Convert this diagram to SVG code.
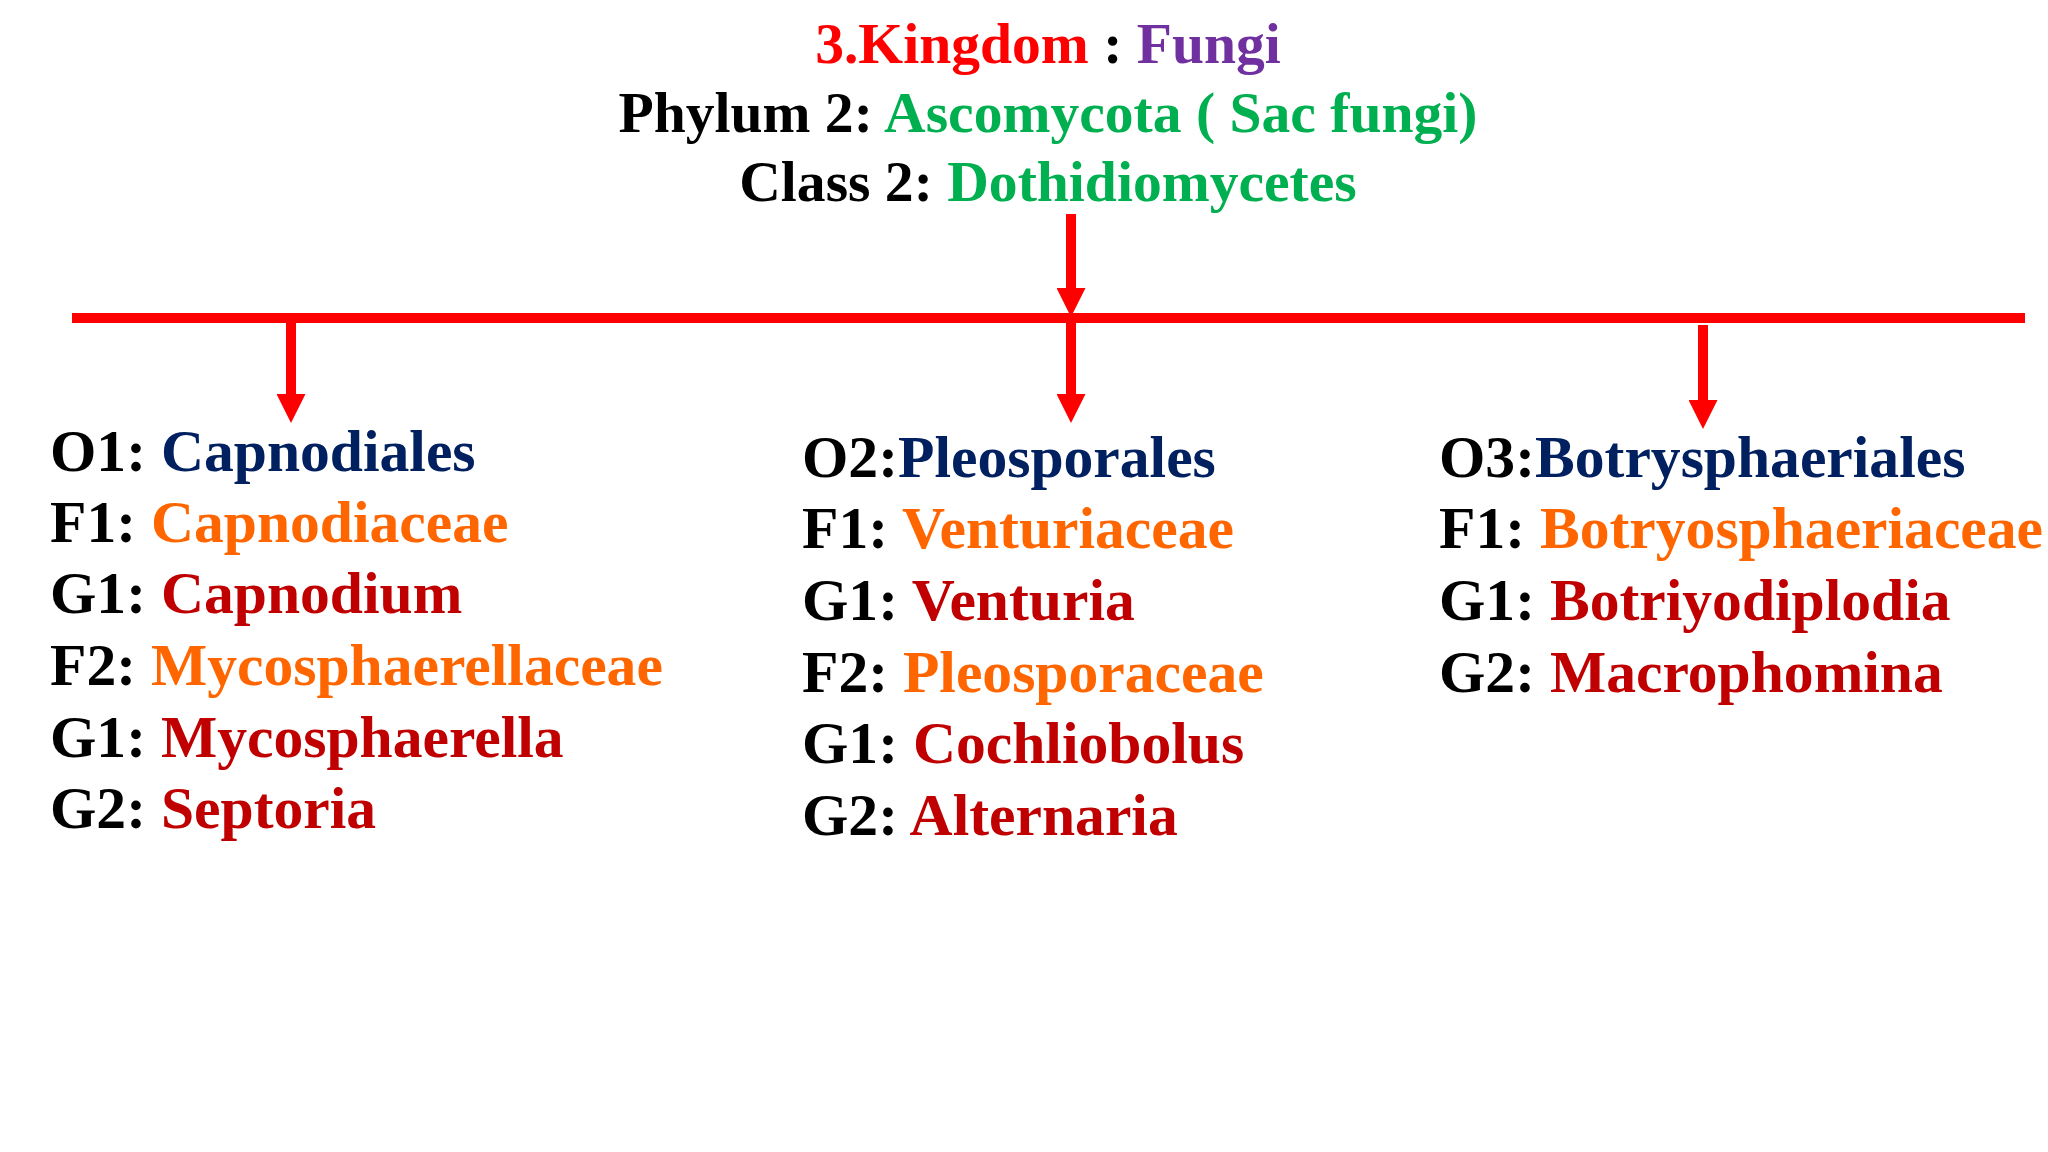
<svg xmlns="http://www.w3.org/2000/svg" width="2048" height="1152" viewBox="0 0 2048 1152">
  <style>
    text { font-family: "Liberation Serif", "Times New Roman", serif; font-weight: bold; }
    .title { font-size: 57.6px; text-anchor: middle; }
    .item { font-size: 59.6px; }
    .k { fill: #000000; }
    .red { fill: #FF0000; }
    .purple { fill: #7030A0; }
    .green { fill: #00B050; }
    .order { fill: #002060; }
    .family { fill: #FF6600; }
    .genus { fill: #C00000; }
    .conn { stroke: #FF0000; fill: none; }
    .shaft { stroke-width: 10; }
    .bar { stroke-width: 10; }
  </style>
  <defs>
    <marker id="ah" markerUnits="userSpaceOnUse" markerWidth="29" markerHeight="29" viewBox="0 0 29 29" refX="0" refY="14.5" orient="auto">
      <path d="M0,0 L29,14.5 L0,29 Z" fill="#FF0000"/>
    </marker>
  </defs>
  <rect width="2048" height="1152" fill="#FFFFFF"/>

  <g id="title">
    <text class="title" x="1048" y="63"><tspan class="red">3.Kingdom</tspan><tspan class="k"> : </tspan><tspan class="purple">Fungi</tspan></text>
    <text class="title" x="1048" y="132"><tspan class="k">Phylum 2: </tspan><tspan class="green">Ascomycota ( Sac fungi)</tspan></text>
    <text class="title" x="1048" y="201"><tspan class="k">Class 2: </tspan><tspan class="green">Dothidiomycetes</tspan></text>
  </g>

  <g id="connectors">
    <line class="conn bar" x1="72" y1="318" x2="2025" y2="318"/>
    <line class="conn shaft" x1="1071" y1="214" x2="1071" y2="288" marker-end="url(#ah)"/>
    <line class="conn shaft" x1="1071" y1="313" x2="1071" y2="394" marker-end="url(#ah)"/>
    <line class="conn shaft" x1="291" y1="323" x2="291" y2="394" marker-end="url(#ah)"/>
    <line class="conn shaft" x1="1703" y1="325" x2="1703" y2="400" marker-end="url(#ah)"/>
  </g>

  <g id="order1">
    <text class="item" x="50" y="471"><tspan class="k">O1: </tspan><tspan class="order">Capnodiales</tspan></text>
    <text class="item" x="50" y="542"><tspan class="k">F1: </tspan><tspan class="family">Capnodiaceae</tspan></text>
    <text class="item" x="50" y="613"><tspan class="k">G1: </tspan><tspan class="genus">Capnodium</tspan></text>
    <text class="item" x="50" y="685"><tspan class="k">F2: </tspan><tspan class="family">Mycosphaerellaceae</tspan></text>
    <text class="item" x="50" y="757"><tspan class="k">G1: </tspan><tspan class="genus">Mycosphaerella</tspan></text>
    <text class="item" x="50" y="828"><tspan class="k">G2: </tspan><tspan class="genus">Septoria</tspan></text>
  </g>

  <g id="order2">
    <text class="item" x="802" y="477"><tspan class="k">O2:</tspan><tspan class="order">Pleosporales</tspan></text>
    <text class="item" x="802" y="548"><tspan class="k">F1: </tspan><tspan class="family">Venturiaceae</tspan></text>
    <text class="item" x="802" y="620"><tspan class="k">G1: </tspan><tspan class="genus">Venturia</tspan></text>
    <text class="item" x="802" y="692"><tspan class="k">F2: </tspan><tspan class="family">Pleosporaceae</tspan></text>
    <text class="item" x="802" y="763"><tspan class="k">G1: </tspan><tspan class="genus">Cochliobolus</tspan></text>
    <text class="item" x="802" y="835"><tspan class="k">G2: </tspan><tspan class="genus">Alternaria</tspan></text>
  </g>

  <g id="order3">
    <text class="item" x="1439" y="477"><tspan class="k">O3:</tspan><tspan class="order">Botrysphaeriales</tspan></text>
    <text class="item" x="1439" y="548"><tspan class="k">F1: </tspan><tspan class="family">Botryosphaeriaceae</tspan></text>
    <text class="item" x="1439" y="620"><tspan class="k">G1: </tspan><tspan class="genus">Botriyodiplodia</tspan></text>
    <text class="item" x="1439" y="692"><tspan class="k">G2: </tspan><tspan class="genus">Macrophomina</tspan></text>
  </g>
</svg>
